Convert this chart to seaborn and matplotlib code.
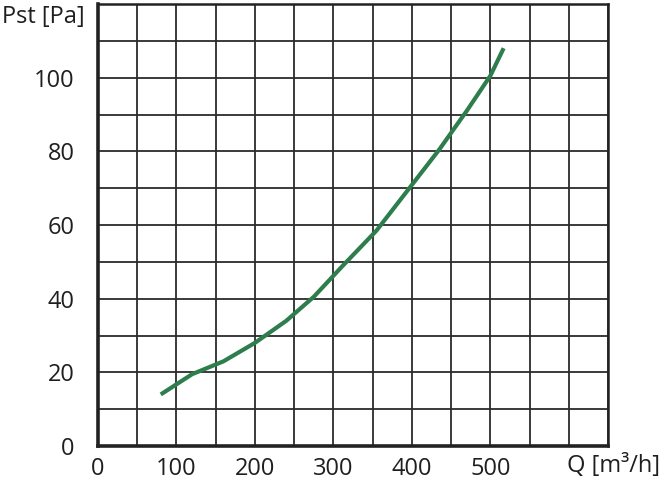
import matplotlib
matplotlib.use("Agg")
import matplotlib.pyplot as plt
import seaborn as sns
import pandas as pd
import numpy as np

# Data
flow = [80, 120, 160, 200, 240, 275, 310, 355, 395, 435, 470, 500, 517]
pressure = [14, 19.5, 23, 28, 34, 40.5, 48.5, 58.5, 69.5, 80.5, 91, 100.5, 108]
x_tick_values = [0, 100, 200, 300, 400, 500]
y_tick_values = [0, 20, 40, 60, 80, 100]
x_label = "Q [m³/h]"
y_label = "Pst [Pa]"

sns.set_style("white")
plt.rcParams['font.family'] = ['Open Sans', 'DejaVu Sans']

fig = plt.figure(figsize=(6.64, 4.8), dpi=100)
ax = fig.add_axes([98/664, 34/480, 510/664, 442/480])

df = pd.DataFrame({"Q": flow, "P": pressure})
sns.lineplot(data=df, x="Q", y="P", ax=ax, color="#2e7d4c", linewidth=3.0,
             solid_capstyle="butt", zorder=3)

ax.set_xlim(0, 650)
ax.set_ylim(0, 120)
ax.set_xticks(np.arange(0, 651, 50))
ax.set_yticks(np.arange(0, 121, 10))
ax.set_xticklabels([str(v) if v in x_tick_values else "" for v in np.arange(0, 651, 50)])
ax.set_yticklabels([str(v) if v in y_tick_values else "" for v in np.arange(0, 121, 10)])
ax.tick_params(axis="both", length=0, labelsize=17, colors="#1f1f1f")
ax.tick_params(axis="x", pad=8)
ax.tick_params(axis="y", pad=17)
ax.grid(True, color="#2b2b2b", linewidth=1.3)
ax.set_xlabel("")
ax.set_ylabel("")

for side in ["top", "right"]:
    ax.spines[side].set_color("#222222")
    ax.spines[side].set_linewidth(1.8)
for side in ["left", "bottom"]:
    ax.spines[side].set_color("#222222")
    ax.spines[side].set_linewidth(2.6)

fig.text(85/664, 1 - 17/480, y_label, ha="right", va="center", fontsize=17, color="#1f1f1f")
fig.text(660/664, 1 - 466/480, x_label, ha="right", va="center", fontsize=17, color="#1f1f1f")

fig.savefig("out.png", dpi=100)
